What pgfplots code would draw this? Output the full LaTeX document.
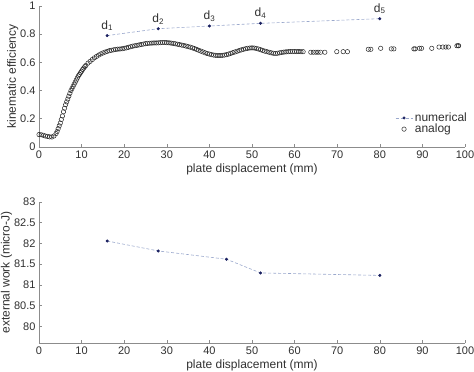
\documentclass[border=0pt]{standalone}
\usepackage{pgfplots}
\pgfplotsset{compat=1.18}
\usepackage{fontspec}
\setmainfont{Liberation Sans}
\definecolor{axgray}{HTML}{8C8C8C}
\definecolor{txtgray}{HTML}{303030}
\definecolor{navy}{HTML}{1A2060}
\definecolor{dashblue}{HTML}{9AA8CC}
\pgfplotsset{
  myaxis/.style={
    scale only axis, width=426pt, height=141pt,
    axis x line=bottom, axis y line=left,
    axis line style={-, axgray, line width=0.6pt},
    tick align=inside, major tick length=3pt,
    tick style={axgray, line width=0.6pt},
    xmin=0, xmax=100, xtick={0,10,...,100},
    ticklabel style={font=\fontsize{11}{12}\selectfont, text=txtgray},
    label style={font=\fontsize{12}{13}\selectfont, text=txtgray},
    /pgf/number format/assume math mode=true,
    xlabel={plate displacement (mm)},
    xlabel style={yshift=1.5pt},
    ylabel style={yshift=-5pt},
    clip=false,
  }
}
\begin{document}
\begin{tikzpicture}
\begin{axis}[myaxis,
  ymin=0, ymax=1, ytick={0,0.2,...,1},
  yticklabels={0,0.2,0.4,0.6,0.8,1},
  ylabel={kinematic efficiency},
  legend style={at={(rel axis cs:1.012,0.265)}, anchor=north east, draw=none, fill=none,
    font=\fontsize{12}{13}\selectfont, text=txtgray, row sep=-3pt, inner sep=1pt},
  legend cell align=left,
]
\addplot[dashblue, densely dashed, line width=0.6pt, mark=*, mark size=1.2pt,
  mark options={solid, fill=navy, draw=navy},
  nodes near coords={d\textsubscript{\pgfplotspointmeta}},
  point meta=explicit symbolic,
  every node near coord/.style={font=\fontsize{12}{13}\selectfont, text=txtgray, anchor=south, yshift=1pt}]
  table[meta=lab] {
x y lab
16 0.790 1
28 0.839 2
40 0.858 3
52 0.877 4
80 0.910 5
};
\addlegendentry{numerical}
\addplot[only marks, mark=o, mark size=2.2pt, mark options={draw=black!85, line width=0.5pt}]
  table {
x y
0 0.088
0.5 0.087
1 0.083
1.5 0.078
2 0.075
2.5 0.072
3 0.071
3.5 0.078
4 0.095
4.25 0.11
4.5 0.13
4.75 0.15
5 0.17
5.25 0.195
5.5 0.22
5.75 0.25
6 0.275
6.25 0.30
6.5 0.32
6.75 0.34
7 0.36
7.25 0.38
7.5 0.40
7.75 0.415
8 0.43
8.25 0.445
8.5 0.46
8.75 0.475
9 0.49
9.25 0.505
9.5 0.515
9.75 0.527
10 0.538
10.25 0.55
10.5 0.56
10.75 0.57
11 0.578
11.5 0.595
12 0.607
12.5 0.62
13 0.632
13.5 0.642
14 0.652
14.5 0.66
15 0.667
15.5 0.673
16 0.678
16.5 0.683
17 0.686
17.5 0.689
18 0.692
18.5 0.694
19 0.695
19.5 0.697
20 0.700
20.5 0.703
21 0.707
21.5 0.711
22 0.715
22.5 0.718
23 0.721
23.5 0.724
24 0.727
24.5 0.730
25 0.733
25.5 0.735
26 0.736
26.5 0.737
27 0.738
27.5 0.738
28 0.739
28.5 0.740
29 0.741
29.5 0.741
30 0.740
30.5 0.739
31 0.737
31.5 0.735
32 0.732
32.5 0.729
33 0.726
33.5 0.723
34 0.720
34.5 0.716
35 0.712
35.5 0.708
36 0.703
36.5 0.698
37 0.692
37.5 0.686
38 0.680
38.5 0.674
39 0.668
39.5 0.663
40 0.659
40.5 0.655
41 0.652
41.5 0.650
42 0.649
42.5 0.649
43 0.650
43.5 0.652
44 0.655
44.5 0.659
45 0.664
45.5 0.669
46 0.674
46.5 0.679
47 0.684
47.5 0.689
48 0.693
48.5 0.697
49 0.700
49.5 0.702
50 0.703
50.5 0.702
51 0.699
51.5 0.695
52 0.690
52.5 0.685
53 0.680
53.5 0.676
54 0.672
54.5 0.668
55 0.665
55.5 0.663
56 0.665
56.5 0.668
57 0.671
57.5 0.673
58 0.675
58.5 0.676
59 0.677
59.5 0.677
60 0.677
60.5 0.677
61 0.677
61.5 0.676
62 0.676
63.8 0.672
64.4 0.672
65.0 0.672
65.5 0.672
66.1 0.672
67.1 0.672
69.9 0.676
71.4 0.676
72.4 0.676
77.3 0.693
77.9 0.693
80.2 0.700
82.7 0.696
83.3 0.696
88.0 0.696
88.3 0.696
89.3 0.700
89.8 0.700
92.2 0.700
93.9 0.709
94.8 0.709
95.5 0.709
96.1 0.709
98.1 0.718
98.4 0.718
98.5 0.718
};
\addlegendentry{analog}
\end{axis}
\begin{axis}[myaxis, yshift=-196pt,
  ymin=79.6, ymax=83, ytick={80,80.5,...,83},
  yticklabels={80,80.5,81,81.5,82,82.5,83},
  ylabel={external work (micro-J)},
]
\addplot[dashblue, densely dashed, line width=0.6pt, mark=*, mark size=1.2pt,
  mark options={solid, fill=navy, draw=navy}]
  coordinates {(16,82.06) (28,81.82) (44,81.62) (52,81.29) (80,81.23)};
\end{axis}
\pgfresetboundingbox
\path (-39pt,147pt) rectangle (435pt,-225pt);
\end{tikzpicture}
\end{document}
